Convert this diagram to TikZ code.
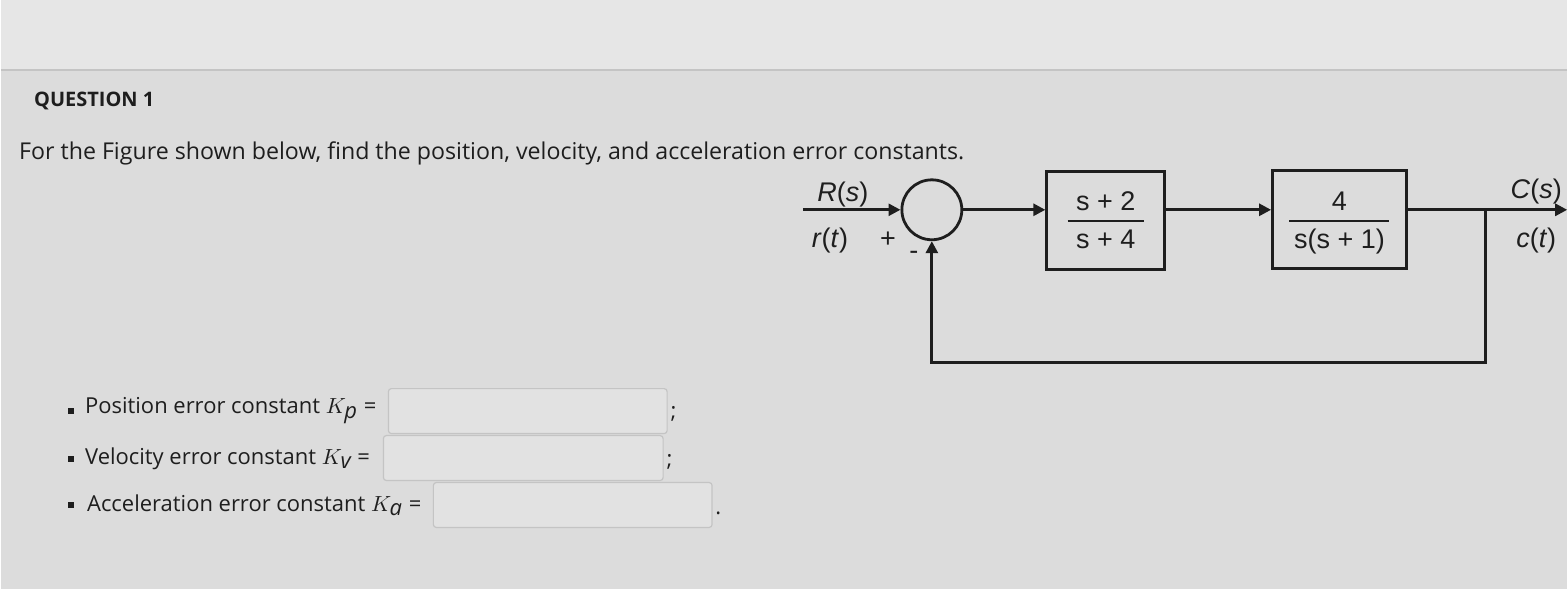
\documentclass[tikz,border=0pt]{standalone}
\usepackage{fontspec}
\setmainfont{Open Sans}
\newfontfamily\arial{Liberation Sans}
\usetikzlibrary{arrows.meta}
\definecolor{bg}{HTML}{DCDCDC}
\definecolor{bgtop}{HTML}{E6E6E6}
\definecolor{ink}{HTML}{1E1E1E}
\definecolor{boxfill}{HTML}{E2E2E2}
\definecolor{boxline}{HTML}{C4C4C4}
\newcommand{\kk}[1]{$K_{\textstyle\mathit{#1}}$}
\tikzset{
  blk/.style={draw=ink,line width=1.4pt,minimum width=59pt,minimum height=49pt,inner sep=0pt},
  wire/.style={draw=ink,line width=1.4pt},
  arr/.style={wire,-{Triangle[length=6pt,width=6pt]}},
  lbl/.style={font=\arial\fontsize{13.5}{15}\selectfont,text=ink,inner sep=0pt},
  txt/.style={font=\fontsize{11}{13}\selectfont,text=ink,anchor=west,inner sep=0pt},
  ansbox/.style={draw=boxline,fill=boxfill,rounded corners=1.5pt,line width=0.6pt},
  bul/.style={fill=ink,minimum size=3pt,inner sep=0pt}
}
\begin{document}
\begin{tikzpicture}[x=0.5pt,y=-0.5pt]
\fill[bg] (0,0) rectangle (1568,590);
\fill[bgtop] (0,0) rectangle (1568,70);
\draw[boxline,line width=0.8pt] (0,70) -- (1568,70);
\useasboundingbox (0,0) rectangle (1568,590);
\node[txt,font=\bfseries\fontsize{10}{12}\selectfont] (q) at (33,101) {QUESTION 1};
\node[txt,font=\fontsize{11.6}{14}\selectfont] (intro) at (18,154) {For the Figure shown below, find the position, velocity, and acceleration error constants.};
% diagram
\coordinate (in) at (803,210);
\node[draw=ink,line width=1.4pt,circle,minimum size=30pt,inner sep=0pt] (sum) at (932,210) {};
\node[blk] (g1) at (1106,221) {};
\node[blk,minimum width=67pt] (g2) at (1340,220) {};
\coordinate (out) at (1568,210);
\coordinate (br) at (1486,210);
\coordinate (fb) at (1486,363);
\draw[arr] (in) -- (sum.west);
\draw[arr] (sum.east) -- (g1.west |- sum.east);
\draw[arr] (g1.east |- sum.east) -- (g2.west |- sum.east);
\draw[arr] (g2.east |- sum.east) -- (out);
\draw[arr] (br) -- (fb) -| (sum.south);
\node[lbl] (n1) at (1106,201) {s + 2};
\node[lbl] (d1) at (1106,240) {s + 4};
\draw[wire,line width=1.1pt] (1068,221) -- (1144,221);
\node[lbl] (n2) at (1340,201) {4};
\node[lbl] (d2) at (1340,242) {s(s + 1)};
\draw[wire,line width=1.1pt] (1290,221) -- (1390,221);
\node[lbl] (R) at (843,195) {\textit{R}(\textit{s})};
\node[lbl] (r) at (830,241) {\textit{r}(\textit{t})};
\node[lbl] (plus) at (888,240) {+};
\node[lbl] (minus) at (914,256) {-};
\node[lbl] (C) at (1537,192) {\textit{C}(\textit{s})};
\node[lbl] (c) at (1537,241) {\textit{c}(\textit{t})};
% answers
\node[bul] (b1) at (70,411) {};
\node[bul] (b2) at (70,459) {};
\node[bul] (b3) at (70,506) {};
\node[txt] (t1) at (84,411) {Position error constant \kk{p} =};
\node[txt] (t2) at (84,459) {Velocity error constant \kk{v} =};
\node[txt] (t3) at (86,506) {Acceleration error constant \kk{a} =};
\draw[ansbox] (388,389) rectangle (667,434);
\draw[ansbox] (383,436) rectangle (663,481);
\draw[ansbox] (433,483) rectangle (712,528);
\node[txt] (s1) at (670,414) {;};
\node[txt] (s2) at (666,462) {;};
\node[txt] (s3) at (715,514) {.};
\end{tikzpicture}
\end{document}
